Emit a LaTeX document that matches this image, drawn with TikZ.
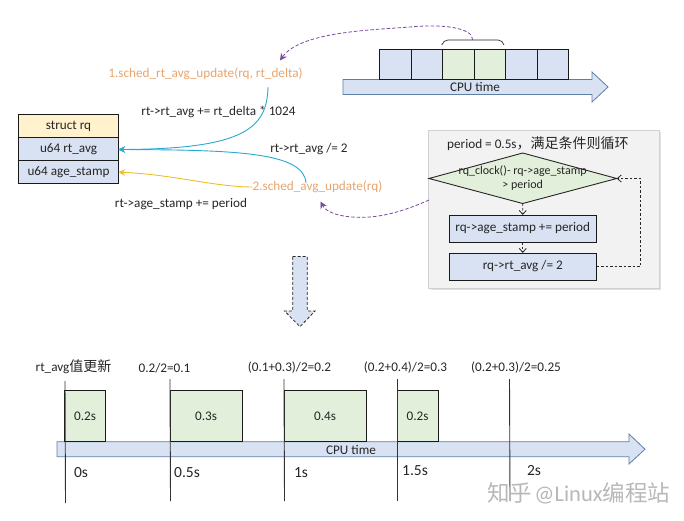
\documentclass[tikz,border=0pt]{standalone}
\usepackage{fontspec}
\setmainfont{Carlito}
\newfontfamily\cjk{Noto Sans CJK SC}
\usetikzlibrary{arrows.meta,calc}
\definecolor{cellblue}{HTML}{D9E2F3}
\definecolor{cellgreen}{HTML}{E2EFDA}
\definecolor{cellyellow}{HTML}{FFF2CC}
\definecolor{fnorange}{HTML}{E8A46C}
\definecolor{linecyan}{HTML}{2AA8D0}
\definecolor{lineyellow}{HTML}{EDBE2A}
\definecolor{linepurple}{HTML}{7A4A9E}
\definecolor{arrowedge}{HTML}{5B7FA6}
\tikzset{
 x=1pt,y=-1pt,
 txt/.style={inner sep=0pt,font=\fontsize{13.2}{15}\selectfont,text=black!85},
 fn/.style={txt,text=fnorange},
 cell/.style={draw=black!90,line width=1pt,outer sep=0pt,minimum width=0pt,anchor=north west,inner sep=0pt,align=center,font=\fontsize{13.2}{15}\selectfont,text=black!85},
 bigarrow/.style={draw=arrowedge,fill=cellblue,line width=.8pt,line join=miter},
 curvecyan/.style={draw=linecyan,line width=.9pt,-{Stealth[length=6.5pt,width=6.5pt]}},
 curveyellow/.style={draw=lineyellow,line width=.9pt,-{Stealth[length=6.5pt,width=6.5pt]}},
 curvepurple/.style={draw=linepurple,line width=.8pt,dash pattern=on 3.5pt off 2pt,-{Stealth[length=7pt,width=7pt]}},
 loopline/.style={draw=black!85,line width=.8pt,dash pattern=on 2.5pt off 2pt},
 loopend/.style={loopline,-{Straight Barb[length=4pt,width=7pt]}},
 vline/.style={draw=black!80,line width=.9pt},
}
\newcommand{\cellbox}[7]{% name x1 y1 x2 y2 fill text
 \node[cell,fill=#6,minimum width=#4pt-#2pt,minimum height=#5pt-#3pt] (#1) at (#2,#3) {#7};}
\newcommand{\zh}[1]{{\cjk\fontsize{14}{15}\selectfont #1}}
\begin{document}
\begin{tikzpicture}
\useasboundingbox (0,0) rectangle (684,521);
% struct rq
\cellbox{srq}{18.5}{115}{118.5}{138}{cellyellow}{struct rq}
\cellbox{avg}{18.5}{138}{118.5}{161}{cellblue}{u64 rt\_avg}
\cellbox{stamp}{18.5}{161}{118.5}{183.5}{cellblue}{u64 age\_stamp}
% top time arrow
\path[bigarrow] (343,79.5) -- (592,79.5) -- (592,72) -- (608,87) -- (592,102) -- (592,94.5) -- (343,94.5) -- cycle;
\node[txt] (cputop) at (475,87) {CPU time};
\cellbox{c1}{379.5}{49.5}{411}{79.5}{cellblue}{}
\cellbox{c2}{411}{49.5}{442.5}{79.5}{cellblue}{}
\cellbox{c3}{442.5}{49.5}{474}{79.5}{cellgreen}{}
\cellbox{c4}{474}{49.5}{505.5}{79.5}{cellgreen}{}
\cellbox{c5}{505.5}{49.5}{537}{79.5}{cellblue}{}
\cellbox{c6}{537}{49.5}{568}{79.5}{cellblue}{}
% brace
\draw[black!85,line width=.7pt] (441.7,45) .. controls (443,42) and (445,40) .. (448,40) -- (498,40) .. controls (501,40) and (503,42) .. (504,45);
\coordinate (bracetop) at (472.7,40);
% function labels
\node[fn] (f1) at (205.5,74) {1.sched\_rt\_avg\_update(rq, rt\_delta)};
\node[fn] (f2) at (317.5,187) {2.sched\_avg\_update(rq)};
\node[txt] (l1) at (218.5,112) {rt->rt\_avg += rt\_delta * 1024};
\node[txt] (l2) at (309,149) {rt->rt\_avg /= 2};
\node[txt] (l3) at (181,204) {rt->age\_stamp += period};
% curves
\coordinate (a1) at (268,87);
\coordinate (a2) at (306,183);
\draw[curvecyan] (a1) .. controls (267,128) and (245,149) .. (avg.east);
\draw[curvecyan] (a2) .. controls (304,152) and (235,150) .. (avg.east);
\draw[curveyellow] (f2.west) .. controls (215,187) and (170,174) .. (stamp.east);
\coordinate (p1) at (280,60.5);
\draw[curvepurple] (bracetop) .. controls (473,27) and (440,24) .. (410,27) .. controls (370,30) and (300,32) .. (p1);
% flow panel
\fill[black!12] (430.5,132.5) rectangle (660.5,289.5);
\node[draw=black!18,fill=black!5,line width=.7pt,outer sep=0pt,anchor=north west,inner sep=0pt,minimum width=230.3pt,minimum height=157.3pt] (panel) at (428.7,130.7) {};
\node[txt,anchor=west] (ptitle) at (447,144) {period = 0.5s\zh{，满足条件则循环}};
\coordinate (dl) at (429,178.5);
\coordinate (dr) at (616.7,178.5);
\coordinate (dt) at (522.7,153);
\coordinate (db) at (522.7,203.5);
\draw[black!85,line width=.9pt,fill=cellgreen] (dl) -- (dt) -- (dr) -- (db) -- cycle;
\node[txt,align=center,font=\fontsize{12}{14}\selectfont] (cond) at (522.7,178.5) {rq\_clock()- rq->age\_stamp\\> period};
\cellbox{b1}{449}{215}{596.5}{242}{cellblue}{rq->age\_stamp += period}
\cellbox{b2}{449}{253}{596.5}{280}{cellblue}{rq->rt\_avg /= 2}
\draw[loopend] (db) -- (b1.north);
\draw[loopend] (b1.south) -- (b2.north);
\draw[loopend] (b2.east) -- (640,266.5) -- (640,178.5) -- (dr);
\coordinate (p2s) at (429,200);
\coordinate (p2) at (320.5,201.5);
\draw[curvepurple] (p2s) .. controls (400,213) and (375,219) .. (352,217) .. controls (338,216) and (326,212) .. (p2);
% down arrow
\path[draw=black!85,fill=cellblue,line width=.8pt,dash pattern=on 3pt off 2pt] (292.7,256.5) -- (307.3,256.5) -- (307.3,311) -- (315,311) -- (300,326.7) -- (284.5,311) -- (292.7,311) -- cycle;
% bottom arrow
\path[bigarrow] (57,441.7) -- (629,441.7) -- (629,434) -- (645,449.2) -- (629,464) -- (629,456.7) -- (57,456.7) -- cycle;
\node[txt] (cpubot) at (351,449.5) {CPU time};
% boxes
\cellbox{t1}{64.5}{390.5}{105.5}{441.7}{cellgreen}{0.2s}
\cellbox{t2}{170}{390.5}{242}{441.7}{cellgreen}{0.3s}
\cellbox{t3}{284}{390.5}{366}{441.7}{cellgreen}{0.4s}
\cellbox{t4}{397}{390.5}{438}{441.7}{cellgreen}{0.2s}
% vertical lines
\coordinate (v1a) at (65,381); \coordinate (v1b) at (65.5,503);
\coordinate (v2a) at (170,379); \coordinate (v2b) at (170.5,501);
\coordinate (v3a) at (284,379); \coordinate (v3b) at (284.5,501);
\coordinate (v4a) at (397,379); \coordinate (v4b) at (397,501);
\coordinate (v5a) at (509.5,379); \coordinate (v5b) at (510,501);
\draw[vline] (v1a) -- (v1b);
\draw[vline] (v2a) -- (v2b);
\draw[vline] (v3a) -- (v3b);
\draw[vline] (v4a) -- (v4b);
\draw[vline] (v5a) -- (v5b);
% labels
\node[txt] (u1) at (73.5,367) {rt\_avg\zh{值更新}};
\node[txt] (u2) at (164.5,368) {0.2/2=0.1};
\node[txt] (u3) at (289.5,368) {(0.1+0.3)/2=0.2};
\node[txt] (u4) at (405.5,368) {(0.2+0.4)/2=0.3};
\node[txt] (u5) at (516,368) {(0.2+0.3)/2=0.25};
\tikzset{timelab/.style={txt,font=\fontsize{15.5}{17}\selectfont}}
\node[timelab] (s1) at (81,473) {0s};
\node[timelab] (s2) at (187,473) {0.5s};
\node[timelab] (s3) at (301,473) {1s};
\node[timelab] (s4) at (415,471) {1.5s};
\node[timelab] (s5) at (534,471) {2s};
% watermark
\node[inner sep=0pt,text=black!28,anchor=west] (wm) at (487,493) {{\cjk\fontsize{22.5}{24}\selectfont 知乎} \fontsize{22.5}{24}\selectfont @Linux{\cjk\fontsize{22.5}{24}\selectfont 编程站}};
\end{tikzpicture}
\end{document}
